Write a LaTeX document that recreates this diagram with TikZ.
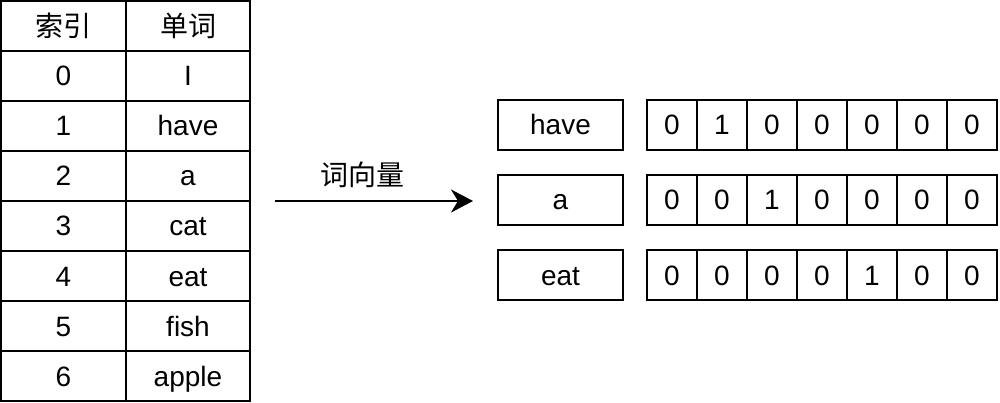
\documentclass[tikz,border=0pt]{standalone}
\usepackage{fontspec}
\setmainfont{Liberation Sans}
\newfontfamily\cjk{Noto Sans CJK SC}
\usetikzlibrary{arrows.meta}
\begin{document}
\begin{tikzpicture}[x=1pt,y=-1pt,
  cell/.style={draw, line width=2pt, inner sep=0pt, minimum height=50pt,
    font=\fontsize{28}{34}\selectfont, text height=20pt, text depth=0pt},
  cjkcell/.style={draw, line width=2pt, inner sep=0pt, minimum height=50pt,
    font=\fontsize{28}{34}\selectfont\cjk},
  colA/.style={minimum width=125pt},
  colB/.style={minimum width=124pt},
  wordbox/.style={cell, minimum width=125pt},
  vcell/.style={cell, minimum width=50pt},
  arrowline/.style={line width=2.5pt, -{Stealth[length=22pt,width=23pt,inset=7pt]}}
]
\useasboundingbox (0,0) rectangle (1000,403);
% table
\node[cjkcell, colA] (hA) at (63.5,26) {索引};
\node[cjkcell, colB] (hB) at (188,26) {单词};
\foreach \i/\w in {0/I,1/have,2/a,3/cat,4/eat,5/fish,6/apple}{
  \node[cell, colA] (a\i) at (63.5,{76+50*\i}) {\i};
  \node[cell, colB] (b\i) at (188,{76+50*\i}) {\w};
}
% arrow
\coordinate (as) at (275,201);
\coordinate (ae) at (473,201);
\draw[arrowline] (as) -- (ae);
\node[font=\fontsize{28}{34}\selectfont\cjk] (lbl) at (362,175) {词向量};
% word vectors
\foreach \r/\w/\y/\v in {1/have/125/{0,1,0,0,0,0,0},2/a/200/{0,0,1,0,0,0,0},3/eat/275/{0,0,0,0,1,0,0}}{
  \node[wordbox] (w\r) at (560.5,\y) {\w};
  \foreach \d [count=\k from 0] in \v {
    \node[vcell] (v\r-\k) at ({672+50*\k},\y) {\d};
  }
}
\end{tikzpicture}
\end{document}
